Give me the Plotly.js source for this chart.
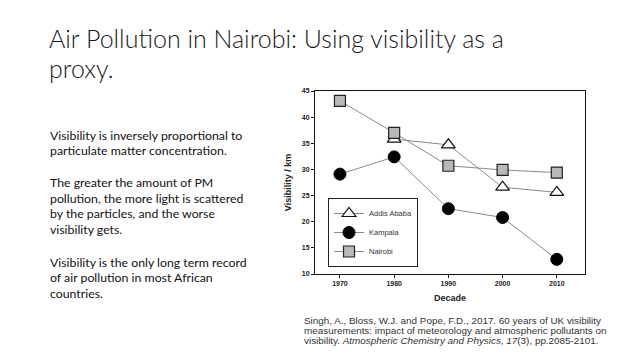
<!DOCTYPE html>
<html>
<head>
<meta charset="utf-8">
<script src="https://cdn.plot.ly/plotly-3.0.1.min.js"></script>
<style>
html,body{margin:0;padding:0;background:#fff;}
#chart{width:638px;height:359px;}
</style>
</head>
<body>
<div id="chart"></div>
<script>
// ---- data ----
const decades = [1970, 1980, 1990, 2000, 2010];
const addisAbaba = [null, 35.8, 34.7, 26.6, 25.6];
const kampala = [29.1, 32.4, 22.5, 20.8, 12.8];
const nairobi = [43.1, 37.0, 30.7, 29.9, 29.4];
const seriesNames = ['Addis Ababa', 'Kampala', 'Nairobi'];
const yTicks = [10, 15, 20, 25, 30, 35, 40, 45];

const titleLines = ['Air Pollution in Nairobi: Using visibility as a', 'proxy.'];
const bodyLines = [
  'Visibility is inversely proportional to',
  'particulate matter concentration.',
  '',
  'The greater the amount of PM',
  'pollution, the more light is scattered',
  'by the particles, and the worse',
  'visibility gets.',
  '',
  'Visibility is the only long term record',
  'of air pollution in most African',
  'countries.'
];
const citationLines = [
  'Singh, A., Bloss, W.J. and Pope, F.D., 2017. 60 years of UK visibility',
  'measurements: impact of meteorology and atmospheric pollutants on',
  'visibility. <i>Atmospheric Chemistry and Physics</i>, <i>17</i>(3), pp.2085-2101.'
];

// ---- layout geometry ----
const W = 638, H = 359;
const M = {l: 315, r: 53, t: 91, b: 85};
const pw = W - M.l - M.r, ph = H - M.t - M.b;
const px = x => (x - M.l) / pw;
const py = y => (H - M.b - y) / ph;

const lineColor = '#8a8a8a';
const traces = [
  {x: decades, y: addisAbaba, name: seriesNames[0], mode: 'lines+markers',
   line: {color: lineColor, width: 1},
   marker: {symbol: 'triangle-up', size: 12, color: '#ffffff', line: {color: '#111', width: 1.2}}},
  {x: decades, y: kampala, name: seriesNames[1], mode: 'lines+markers',
   line: {color: lineColor, width: 1},
   marker: {symbol: 'circle', size: 12, color: '#000000', line: {color: '#000', width: 1}}},
  {x: decades, y: nairobi, name: seriesNames[2], mode: 'lines+markers',
   line: {color: lineColor, width: 1},
   marker: {symbol: 'square', size: 11, color: '#b8b8b8', line: {color: '#222', width: 1.2}}}
];

const annotations = [];
const titleFont = {family: 'Lato', size: 25, color: '#1a1a1a', weight: 300};
const titleY = [38, 68];
titleLines.forEach((t, i) => annotations.push({
  text: t, xref: 'paper', yref: 'paper', x: px(47), y: py(titleY[i]),
  xanchor: 'left', yanchor: 'middle', showarrow: false, font: titleFont
}));
const bodyY = [135, 150, 166, 182, 198, 213, 229, 246, 262, 277, 293];
bodyLines.forEach((t, i) => { if (t) annotations.push({
  text: t, xref: 'paper', yref: 'paper', x: px(48), y: py(bodyY[i]),
  xanchor: 'left', yanchor: 'middle', showarrow: false,
  font: {family: 'Lato', size: 12.3, color: '#111'}
}); });
const citeY = [320, 330, 340];
citationLines.forEach((t, i) => annotations.push({
  text: t, xref: 'paper', yref: 'paper', x: px(302), y: py(citeY[i]),
  xanchor: 'left', yanchor: 'middle', showarrow: false,
  font: {family: 'Liberation Sans, Arial', size: 9.9, color: '#333'}
}));

const axisCommon = {
  showline: true, linecolor: '#111', linewidth: 1, mirror: true,
  ticks: 'outside', ticklen: 3, tickcolor: '#111', tickwidth: 1,
  showgrid: false, zeroline: false,
  tickfont: {family: 'Liberation Sans, Arial', size: 7, color: '#222', weight: 'bold'}
};

const layout = {
  width: W, height: H,
  margin: M,
  paper_bgcolor: '#ffffff', plot_bgcolor: '#ffffff',
  showlegend: true,
  legend: {
    x: px(328), y: py(198), xanchor: 'left', yanchor: 'top',
    bgcolor: '#ffffff', bordercolor: '#222', borderwidth: 1,
    font: {family: 'Liberation Sans, Arial', size: 7.5, color: '#333'},
    itemwidth: 30, tracegroupgap: 0
  },
  xaxis: Object.assign({}, axisCommon, {
    range: [1965.4, 2015.2], tickvals: decades, ticktext: decades.map(String),
    title: {text: 'Decade', standoff: 8,
      font: {family: 'Liberation Sans, Arial', size: 9, color: '#222', weight: 'bold'}}
  }),
  yaxis: Object.assign({}, axisCommon, {
    range: [10, 45], tickvals: yTicks,
    title: {text: 'Visibility / km', standoff: 8,
      font: {family: 'Liberation Sans, Arial', size: 9, color: '#222', weight: 'bold'}}
  }),
  annotations: annotations
};

Plotly.newPlot('chart', traces, layout, {displayModeBar: false, staticPlot: true});
</script>
</body>
</html>
